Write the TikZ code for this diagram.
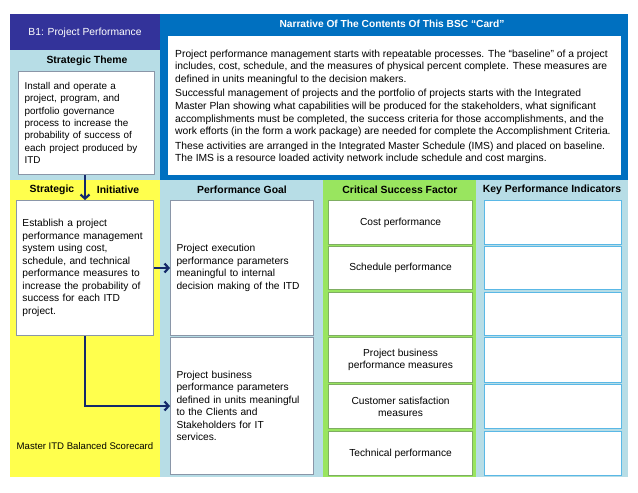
\documentclass[tikz,border=0pt]{standalone}
\usepackage{fontspec}
\setmainfont{Liberation Sans}
\usetikzlibrary{arrows.meta}
\definecolor{hdrblue}{HTML}{33339A}
\definecolor{narrblue}{HTML}{0070C0}
\definecolor{ltblue}{HTML}{B7DDE6}
\definecolor{yel}{HTML}{FFFF4D}
\definecolor{lgreen}{HTML}{99E55F}
\definecolor{navy}{HTML}{13296B}
\definecolor{boxgray}{HTML}{8A96A8}
\definecolor{csfborder}{HTML}{7FAE62}
\definecolor{kpiborder}{HTML}{5AB8E6}
\begin{document}
\begin{tikzpicture}[x=1pt,y=-1pt,
  txt/.style={font=\fontsize{10.2}{12.5}\selectfont},
  hdr/.style={font=\bfseries\fontsize{10.4}{12}\selectfont, inner sep=0pt},
  wbox/.style={draw=boxgray, line width=1pt, fill=white, anchor=north west, inner xsep=6pt, inner ysep=2pt, txt},
  csfbox/.style={draw=csfborder, line width=1.2pt, fill=white, anchor=north west, minimum width=144pt, align=center, txt},
  kpibox/.style={draw=kpiborder, line width=1.2pt, fill=white, anchor=north west, minimum width=137pt},
  arr/.style={draw=navy, line width=2.4pt, -{Straight Barb[length=4pt,width=9pt,line width=2.2pt]}}
]
\useasboundingbox (0,0) rectangle (638,493);
% panels
\fill[hdrblue] (10,14) rectangle (160,50);
\fill[ltblue] (10,50) rectangle (160,180);
\fill[narrblue] (160,14) rectangle (628,180);
\fill[yel] (10,180) rectangle (160,477);
\fill[ltblue] (160,180) rectangle (323,477);
\fill[lgreen] (323,180) rectangle (476,477);
\fill[ltblue] (476,180) rectangle (628,477);

\node[font=\fontsize{10.3}{12}\selectfont, text=white, inner sep=0pt] (b1) at (85,33) {B1: Project Performance};
\node[hdr] (sth) at (87,61) {Strategic Theme};
\node[hdr, font=\bfseries\fontsize{10.2}{12}\selectfont, text=white] (narh) at (392,24) {Narrative Of The Contents Of This BSC “Card”};

\node[draw=none, fill=white, anchor=north west, minimum width=453pt, minimum height=139pt] (narbox) at (168,36) {};
\node[font=\fontsize{10.3}{12.7}\selectfont, anchor=north west, align=left, inner sep=0pt] (nartext) at (175,49.5) {Project performance management starts with repeatable processes. The “baseline” of a project\\
includes, cost, schedule, and the measures of physical percent complete. These measures are\\
defined in units meaningful to the decision makers.\\[1.5pt]
Successful management of projects and the portfolio of projects starts with the Integrated\\
Master Plan showing what capabilities will be produced for the stakeholders, what significant\\
accomplishments must be completed, the success criteria for those accomplishments, and the\\
work efforts (in the form a work package) are needed for complete the Accomplishment Criteria.\\[1.5pt]
These activities are arranged in the Integrated Master Schedule (IMS) and placed on baseline.\\
The IMS is a resource loaded activity network include schedule and cost margins.};

\node[wbox, font=\fontsize{9.9}{12.4}\selectfont, minimum width=136pt, minimum height=103pt, text width=124pt, align=left] (theme) at (18,71)
 {Install and operate a\\ project, program, and\\ portfolio governance\\ process to increase the\\ probability of success of\\ each project produced by\\ ITD};

% column headers
\node[hdr] (si1) at (52,190) {Strategic};
\node[hdr] (si2) at (118,190) {Initiative};
\node[hdr] (pgh) at (242,190) {Performance Goal};
\node[hdr] (csfh) at (400,190) {Critical Success Factor};
\node[hdr] (kpih) at (552,190) {Key Performance Indicators};

\node[wbox, minimum width=137pt, minimum height=135pt, text width=125pt, align=left] (init) at (16,200)
 {Establish a project\\ performance management\\ system using cost,\\ schedule, and technical\\ performance measures to\\ increase the probability of\\ success for each ITD\\ project.};

\node[wbox, minimum width=143pt, minimum height=135pt, text width=131pt, align=left] (goal1) at (170,200)
 {Project execution\\ performance parameters\\ meaningful to internal\\ decision making of the ITD};
\node[wbox, minimum width=143pt, minimum height=137pt, text width=131pt, align=left] (goal2) at (170,337)
 {Project business\\ performance parameters\\ defined in units meaningful\\ to the Clients and\\ Stakeholders for IT\\ services.};

\node[csfbox, minimum height=44pt] (c1) at (328,200) {Cost performance};
\node[csfbox, minimum height=43pt] (c2) at (328,246) {Schedule performance};
\node[csfbox, minimum height=43pt] (c3) at (328,292) {};
\node[csfbox, minimum height=45pt] (c4) at (328,337) {Project business\\ performance measures};
\node[csfbox, minimum height=44pt] (c5) at (328,384) {Customer satisfaction\\ measures};
\node[csfbox, minimum height=44pt] (c6) at (328,431) {Technical performance};

\node[kpibox, minimum height=44pt] (k1) at (484,200) {};
\node[kpibox, minimum height=43pt] (k2) at (484,246) {};
\node[kpibox, minimum height=43pt] (k3) at (484,292) {};
\node[kpibox, minimum height=45pt] (k4) at (484,337) {};
\node[kpibox, minimum height=44pt] (k5) at (484,384) {};
\node[kpibox, minimum height=44pt] (k6) at (484,431) {};

\node[font=\fontsize{9.6}{11}\selectfont, inner sep=0pt] (master) at (85,446) {Master ITD Balanced Scorecard};

% arrows
\draw[arr] (theme.south -| init.north) -- (init.north);
\draw[arr] (init.east) -- (goal1.west);
\draw[arr] (init.south) |- (goal2.west);
\end{tikzpicture}
\end{document}
